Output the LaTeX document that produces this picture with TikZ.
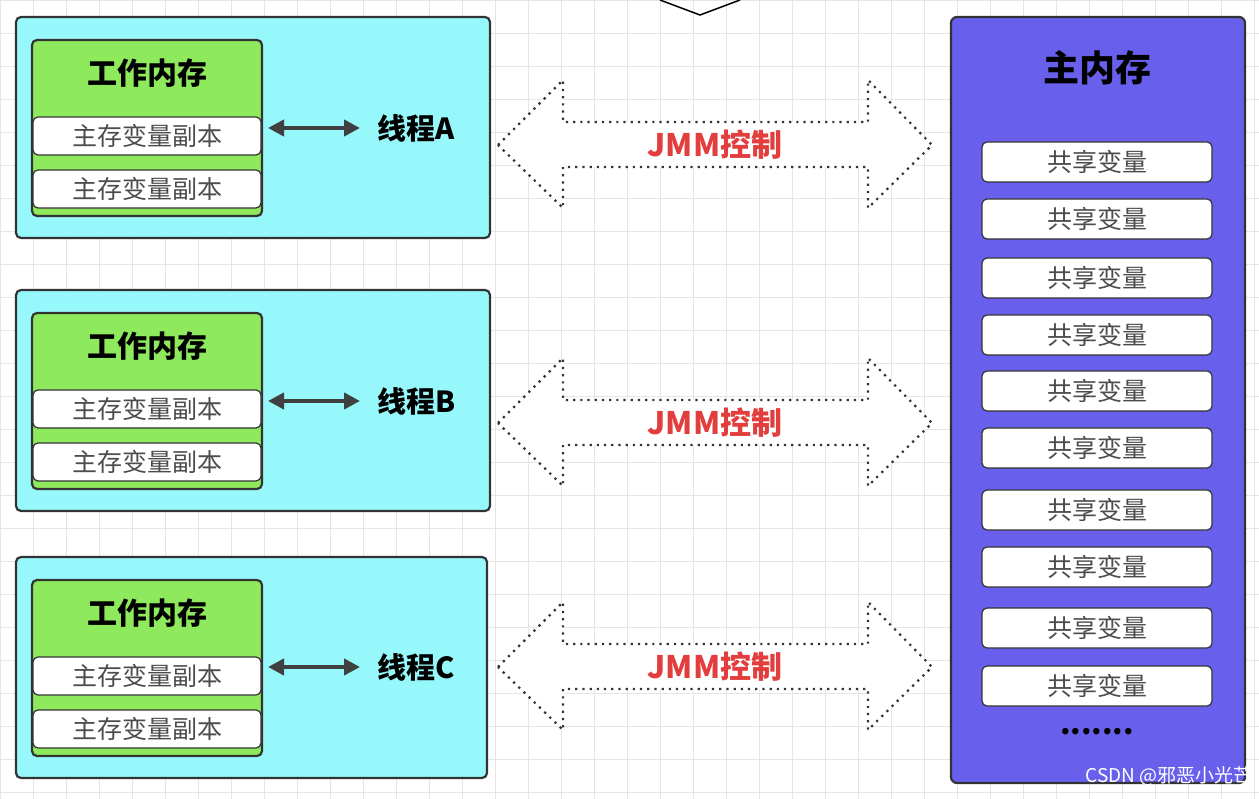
\documentclass[tikz,border=0pt]{standalone}
\usepackage{fontspec}
\setmainfont{Noto Sans CJK SC}
\usetikzlibrary{arrows.meta}
\definecolor{cy}{RGB}{150,248,250}
\definecolor{pu}{RGB}{104,96,236}
\definecolor{gr}{RGB}{142,234,92}
\definecolor{rd}{RGB}{226,62,62}
\begin{document}
\begin{tikzpicture}[x=1pt,y=-1pt,
 outer/.style={draw=black!80,line width=2.2pt,rounded corners=5pt,fill=cy},
 green/.style={draw=black!80,line width=2.2pt,rounded corners=5pt,fill=gr},
 copy/.style={draw=black!80,line width=1.2pt,rounded corners=5pt,fill=white,minimum width=228pt,minimum height=38pt,font=\fontsize{25}{25}\selectfont,text=black!70},
 share/.style={draw=black!80,line width=1.2pt,rounded corners=5pt,fill=white,minimum width=230pt,minimum height=40pt,font=\fontsize{25}{25}\selectfont,text=black!70},
 hd/.style={font=\fontsize{30}{30}\selectfont\bfseries},
 thr/.style={font=\fontsize{29}{29}\selectfont\bfseries},
 dbl/.style={{Triangle[length=16pt,width=16pt]}-{Triangle[length=16pt,width=16pt]},line width=4pt,draw=black!75},
 jmm/.style={draw=black!80,line width=2.2pt,dash pattern=on 2.2pt off 5pt,fill=white},
 jmmt/.style={font=\fontsize{31}{31}\selectfont\bfseries,text=rd}]
\useasboundingbox (0,0) rectangle (1259,799);
\fill[white] (0,0) rectangle (1259,799);
\foreach \g in {0,33,...,1259} \draw[black!10,line width=0.6pt] (\g,0) -- (\g,799);
\foreach \g in {0,33,...,799} \draw[black!10,line width=0.6pt] (0,\g) -- (1259,\g);
\draw[black,line width=1.5pt] (660,0) -- (700,15) -- (740,0);
% main memory
\draw[draw=black!80,line width=2.2pt,rounded corners=6pt,fill=pu] (951,17) rectangle (1245,783);
\node[font=\fontsize{36}{36}\selectfont\bfseries] (mm) at (1097,68) {主内存};
\foreach \i/\y in {1/162,2/219,3/278,4/335,5/391,6/448,7/510,8/567,9/628,10/686}
  \node[share] (s\i) at (1097,\y) {共享变量};
\node[font=\fontsize{30}{30}\selectfont\bfseries] (dots) at (1097,732) {.......};
% thread blocks
\foreach \n/\t/\l/\mid/\jy in {A/17/490/128/145,B/290/490/401/423,C/557/487/667/667}{
  \draw[outer] (16,\t) rectangle (\l,\t+221);
  \draw[green] (32,\t+23) rectangle (262,\t+199);
  \node[hd] (w\n) at (147,\t+56) {工作内存};
  \node[copy] (c1\n) at (147,\t+119) {主存变量副本};
  \node[copy] (c2\n) at (147,\t+172) {主存变量副本};
  \node[thr,anchor=west] (t\n) at (374,\mid) {线程\n};
  \coordinate (a\n) at (268,\mid);
  \coordinate (b\n) at (360,\mid);
  \draw[dbl] (a\n) -- (b\n);
  \draw[jmm] (498,\jy) -- (563,\jy-65) -- (563,\jy-23) -- (868,\jy-23) -- (868,\jy-65) -- (932,\jy) -- (868,\jy+63) -- (868,\jy+22) -- (563,\jy+22) -- (563,\jy+63) -- cycle;
  \node[jmmt] (j\n) at (715,\jy) {JMM控制};
}
\node[anchor=east,text=white,font=\fontsize{19}{19}\selectfont] (wm) at (1256,776) {CSDN @邪恶小光芒};
\end{tikzpicture}
\end{document}
